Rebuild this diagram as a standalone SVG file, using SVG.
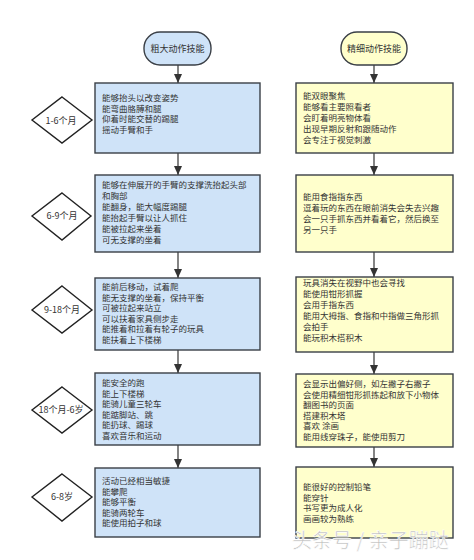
<svg xmlns="http://www.w3.org/2000/svg" width="474" height="560" viewBox="0 0 474 560">
<defs>
<marker id="ah" markerWidth="9" markerHeight="8" refX="9" refY="4" orient="auto" markerUnits="userSpaceOnUse" viewBox="0 0 9 8">
<path d="M0,0 L9,4 L0,8 Z" fill="#333"/>
</marker>
</defs>
<style>
text{font-family:"Noto Sans CJK SC","Liberation Sans",sans-serif;fill:#333;font-size:8.5px}
.b{fill:#cfe3f8;stroke:#3a3f46;stroke-width:1.4}
.y{fill:#ffffcc;stroke:#3a3f46;stroke-width:1.4}
.d{fill:#fff;stroke:#222;stroke-width:1.4}
.c{stroke:#333;stroke-width:1.2;fill:none;marker-end:url(#ah)}
.m{text-anchor:middle;font-size:9px}
</style>
<rect width="474" height="560" fill="#fff"/>
<g id="connectors">
<line class="c" x1="178" y1="65" x2="178" y2="83"/>
<line class="c" x1="178" y1="153" x2="178" y2="175"/>
<line class="c" x1="178" y1="252" x2="178" y2="278"/>
<line class="c" x1="178" y1="350" x2="178" y2="373"/>
<line class="c" x1="178" y1="445" x2="178" y2="468"/>
<line class="c" x1="374" y1="65" x2="374" y2="83"/>
<line class="c" x1="374" y1="153" x2="374" y2="175"/>
<line class="c" x1="374" y1="252" x2="374" y2="277"/>
<line class="c" x1="374" y1="352" x2="374" y2="374"/>
<line class="c" x1="374" y1="447" x2="374" y2="467"/>
</g>
<g id="gross-head">
<rect class="b" x="144" y="32" width="67" height="33" rx="16"/>
<text class="m" x="177.5" y="51.5">粗大动作技能</text>
</g>
<g id="fine-head">
<rect class="y" x="341" y="32" width="66" height="33" rx="16"/>
<text class="m" x="374" y="51.5">精细动作技能</text>
</g>
<g id="age1"><path class="d" d="M62,97 L92,120 L62,143 L32,120 Z"/><text class="m" x="61" y="124">1-6个月</text></g>
<g id="age2"><path class="d" d="M62,193 L91,216 L62,240 L32,216 Z"/><text class="m" x="62" y="219">6-9个月</text></g>
<g id="age3"><path class="d" d="M62,286 L92,310 L62,333 L32,310 Z"/><text class="m" x="62" y="313">9-18个月</text></g>
<g id="age4"><path class="d" d="M62,387 L92,410 L62,433 L32,410 Z"/><text class="m" x="61" y="413">18个月-6岁</text></g>
<g id="age5"><path class="d" d="M62,474 L92,497 L62,521 L32,497 Z"/><text class="m" x="62" y="500">6-8岁</text></g>
<g id="gross1">
<rect class="b" x="95" y="83" width="165" height="70"/>
<text x="102" y="101">能够抬头以改变姿势</text>
<text x="102" y="111.5">能弯曲胳膊和腿</text>
<text x="102" y="122">仰着时能交替的踢腿</text>
<text x="102" y="132.5">摇动手臂和手</text>
</g>
<g id="gross2">
<rect class="b" x="95" y="175" width="165" height="77"/>
<text x="102" y="188">能够在伸展开的手臂的支撑洗抬起头部</text>
<text x="102" y="199">和胸部</text>
<text x="102" y="210">能翻身，能大幅度踢腿</text>
<text x="102" y="221">能抬起手臂以让人抓住</text>
<text x="102" y="232">能被拉起来坐着</text>
<text x="102" y="243">可无支撑的坐着</text>
</g>
<g id="gross3">
<rect class="b" x="95" y="278" width="165" height="72"/>
<text x="102" y="290">能前后移动，试着爬</text>
<text x="102" y="300.5">能无支撑的坐着，保持平衡</text>
<text x="102" y="311">可被拉起来站立</text>
<text x="102" y="321.5">可以扶着家具侧步走</text>
<text x="102" y="332">能推着和拉着有轮子的玩具</text>
<text x="102" y="342.5">能扶着上下楼梯</text>
</g>
<g id="gross4">
<rect class="b" x="95" y="373" width="165" height="72"/>
<text x="102" y="386">能安全的跑</text>
<text x="102" y="396.5">能上下楼梯</text>
<text x="102" y="407">能骑儿童三轮车</text>
<text x="102" y="417.5">能踮脚站、跳</text>
<text x="102" y="428">能扔球、踢球</text>
<text x="102" y="438.5">喜欢音乐和运动</text>
</g>
<g id="gross5">
<rect class="b" x="95" y="468" width="165" height="69"/>
<text x="102" y="484">活动已经相当敏捷</text>
<text x="102" y="494.5">能攀爬</text>
<text x="102" y="505">能够平衡</text>
<text x="102" y="515.5">能骑两轮车</text>
<text x="102" y="526">能使用拍子和球</text>
</g>
<g id="fine1">
<rect class="y" x="296" y="83" width="157" height="70"/>
<text x="303" y="99">能双眼聚焦</text>
<text x="303" y="110">能够看主要照看者</text>
<text x="303" y="121">会盯着明亮物体看</text>
<text x="303" y="132">出现早期反射和跟随动作</text>
<text x="303" y="143">会专注于视觉刺激</text>
</g>
<g id="fine2">
<rect class="y" x="296" y="175" width="157" height="77"/>
<text x="303" y="200">能用食指指东西</text>
<text x="303" y="211">逗着玩的东西在眼前消失会失去兴趣</text>
<text x="303" y="222">会一只手抓东西并看着它，然后换至</text>
<text x="303" y="233">另一只手</text>
</g>
<g id="fine3">
<rect class="y" x="296" y="277" width="157" height="75"/>
<text x="303" y="286">玩具消失在视野中也会寻找</text>
<text x="303" y="297">能使用钳形抓握</text>
<text x="303" y="308">会用手指东西</text>
<text x="303" y="319">能用大拇指、食指和中指做三角形抓</text>
<text x="303" y="330">会拍手</text>
<text x="303" y="341">能玩积木搭积木</text>
</g>
<g id="fine4">
<rect class="y" x="296" y="374" width="157" height="73"/>
<text x="303" y="387">会显示出偏好侧，如左撇子右撇子</text>
<text x="303" y="397.5">会使用精细钳形抓拣起和放下小物体</text>
<text x="303" y="408">翻图书的页面</text>
<text x="303" y="418.5">搭建积木塔</text>
<text x="303" y="429">喜欢 涂画</text>
<text x="303" y="440">能用线穿珠子，能使用剪刀</text>
</g>
<g id="fine5">
<rect class="y" x="296" y="467" width="157" height="71"/>
<text x="303" y="490">能很好的控制铅笔</text>
<text x="303" y="500.5">能穿针</text>
<text x="303" y="511">书写更为成人化</text>
<text x="303" y="521.5">画画较为熟练</text>
</g>
<g id="watermark">
<text x="292" y="548" style="font-size:20px;fill:#bdbdbd;stroke:#fff;stroke-width:0.6;font-family:'Noto Sans CJK SC',sans-serif">头条号 / 亲子蹦跶</text>
</g>
</svg>
